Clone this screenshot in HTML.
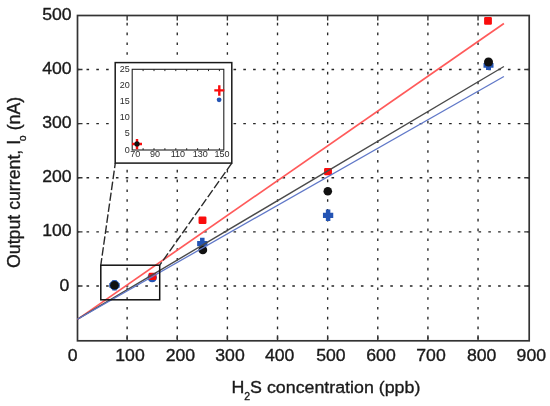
<!DOCTYPE html><html><head><meta charset="utf-8"><style>html,body{margin:0;padding:0;background:#fff;width:550px;height:406px;overflow:hidden}svg{display:block}text{font-family:"Liberation Sans",Arial,sans-serif;fill:#1a1a1a}.m text{stroke:#1a1a1a;stroke-width:0.35px}.i text{fill:#2a2a2a}</style></head><body><svg width="550" height="406" viewBox="0 0 550 406"><g stroke="#262626" stroke-width="1.35" fill="none"><line x1="127.13" y1="15.5" x2="127.13" y2="340.8" stroke-dasharray="2.6 7.20" stroke-dashoffset="-7.3"/><line x1="177.26" y1="15.5" x2="177.26" y2="340.8" stroke-dasharray="2.6 7.20" stroke-dashoffset="-7.3"/><line x1="227.39" y1="15.5" x2="227.39" y2="340.8" stroke-dasharray="2.6 7.20" stroke-dashoffset="-7.3"/><line x1="277.52" y1="15.5" x2="277.52" y2="340.8" stroke-dasharray="2.6 7.20" stroke-dashoffset="-7.3"/><line x1="327.65" y1="15.5" x2="327.65" y2="340.8" stroke-dasharray="2.6 7.20" stroke-dashoffset="-7.3"/><line x1="377.78" y1="15.5" x2="377.78" y2="340.8" stroke-dasharray="2.6 7.20" stroke-dashoffset="-7.3"/><line x1="427.91" y1="15.5" x2="427.91" y2="340.8" stroke-dasharray="2.6 7.20" stroke-dashoffset="-7.3"/><line x1="478.04" y1="15.5" x2="478.04" y2="340.8" stroke-dasharray="2.6 7.20" stroke-dashoffset="-7.3"/><line x1="77.5" y1="286.00" x2="529.2" y2="286.00" stroke-dasharray="2.6 7.20" stroke-dashoffset="-9.0"/><line x1="77.5" y1="231.88" x2="529.2" y2="231.88" stroke-dasharray="2.6 7.20" stroke-dashoffset="-9.0"/><line x1="77.5" y1="177.76" x2="529.2" y2="177.76" stroke-dasharray="2.6 7.20" stroke-dashoffset="-9.0"/><line x1="77.5" y1="123.64" x2="529.2" y2="123.64" stroke-dasharray="2.6 7.20" stroke-dashoffset="-9.0"/><line x1="77.5" y1="69.52" x2="529.2" y2="69.52" stroke-dasharray="2.6 7.20" stroke-dashoffset="-9.0"/></g><path d="M127.13 340.8v-5.5M127.13 15.5v5M177.26 340.8v-5.5M177.26 15.5v5M227.39 340.8v-5.5M227.39 15.5v5M277.52 340.8v-5.5M277.52 15.5v5M327.65 340.8v-5.5M327.65 15.5v5M377.78 340.8v-5.5M377.78 15.5v5M427.91 340.8v-5.5M427.91 15.5v5M478.04 340.8v-5.5M478.04 15.5v5M77.5 286.00h5M529.2 286.00h-5M77.5 231.88h5M529.2 231.88h-5M77.5 177.76h5M529.2 177.76h-5M77.5 123.64h5M529.2 123.64h-5M77.5 69.52h5M529.2 69.52h-5" stroke="#333" stroke-width="1.4" fill="none"/><rect x="77.5" y="15.5" width="451.70" height="325.30" fill="none" stroke="#333" stroke-width="1.7"/><path d="M112.30 280.20h4.4v2.80h2.90v4.8h-2.90v2.80h-4.4v-2.80h-2.90v-4.8h2.90z" fill="#2454b4"/><circle cx="114.5" cy="285.3" r="5.0" fill="#2454b4"/><circle cx="114.5" cy="285.3" r="4.3" fill="#111"/><circle cx="152.2" cy="277.6" r="4.7" fill="#2454b4"/><rect x="148.65" y="272.65" width="7.7" height="7.3" rx="1.2" fill="#fa0c0c"/><path d="M200.05 237.80h4.5v3.20h2.90v5.2h-2.90v3.20h-4.5v-3.20h-2.90v-5.2h2.90z" fill="#2454b4"/><circle cx="202.8" cy="249.9" r="4.4" fill="#111"/><rect x="198.55" y="216.50" width="7.9" height="7.4" rx="1.2" fill="#fa0c0c"/><path d="M325.85 209.50h4.5v3.20h2.90v5.2h-2.90v3.20h-4.5v-3.20h-2.90v-5.2h2.90z" fill="#2454b4"/><circle cx="327.8" cy="191.2" r="4.3" fill="#111"/><rect x="324.05" y="167.90" width="7.9" height="7.4" rx="1.2" fill="#fa0c0c"/><path d="M486.00 60.70h5v2.30h2.50v4.8h-2.50v2.30h-5v-2.30h-2.50v-4.8h2.50z" fill="#2454b4"/><circle cx="488.5" cy="62.0" r="4.5" fill="#111"/><rect x="484.10" y="17.00" width="7.8" height="7.8" rx="1.2" fill="#fa0c0c"/><g stroke-width="1.3" fill="none"><line x1="77.5" y1="319.4" x2="503.9" y2="23.5" stroke="#ff5a5a" stroke-width="1.7"/><line x1="77.5" y1="319.2" x2="503.9" y2="66.5" stroke="#4a4a4a" stroke-width="1.4"/><line x1="77.5" y1="319.2" x2="503.9" y2="76.5" stroke="#6078c8"/></g><rect x="100.8" y="265.2" width="58.9" height="34.6" fill="none" stroke="#111" stroke-width="1.5"/><g stroke="#2a2a2a" stroke-width="1.4" stroke-dasharray="8.5 2.55"><line x1="115.3" y1="163.1" x2="100.8" y2="265.2" stroke-dashoffset="3.4"/><line x1="231.8" y1="163.1" x2="159.7" y2="265.2" stroke-dashoffset="0"/></g><rect x="115.2" y="62.6" width="116.6" height="100.5" fill="#fff" stroke="#1a1a1a" stroke-width="1.5"/><rect x="132.2" y="69.3" width="91.6" height="80.7" fill="none" stroke="#222" stroke-width="1.1"/><path d="M143.10 150v-1.8M143.10 69.3v1.8M154.00 150v-1.8M154.00 69.3v1.8M164.90 150v-1.8M164.90 69.3v1.8M175.80 150v-1.8M175.80 69.3v1.8M186.70 150v-1.8M186.70 69.3v1.8M197.60 150v-1.8M197.60 69.3v1.8M208.50 150v-1.8M208.50 69.3v1.8M219.40 150v-1.8M219.40 69.3v1.8" stroke="#222" stroke-width="1" fill="none"/><path d="M214.3 90.4h10M219.3 85.3v10.4" stroke="#fa0c0c" stroke-width="2.4"/><circle cx="219.1" cy="99.8" r="2.4" fill="#2454b4"/><path d="M132 144h10M137 139v10.2" stroke="#fa0c0c" stroke-width="2.4"/><circle cx="137" cy="143.9" r="2.6" fill="#111"/><g class="i" font-size="8.2" text-anchor="end"><text transform="translate(129.7 152.50) scale(1.1 1)">0</text><text transform="translate(129.7 136.37) scale(1.1 1)">5</text><text transform="translate(129.7 120.24) scale(1.1 1)">10</text><text transform="translate(129.7 104.11) scale(1.1 1)">15</text><text transform="translate(129.7 87.98) scale(1.1 1)">20</text><text transform="translate(129.7 71.85) scale(1.1 1)">25</text></g><g class="i" font-size="8.2" text-anchor="middle"><text transform="translate(135.2 157) scale(1.1 1)">70</text><text transform="translate(154.9 157) scale(1.1 1)">90</text><text transform="translate(177.9 157) scale(1.1 1)">110</text><text transform="translate(200.2 157) scale(1.1 1)">130</text><text transform="translate(222.0 157) scale(1.1 1)">150</text></g><g class="m"><g font-size="16.9" text-anchor="end"><text transform="translate(69.2 290.50) scale(1.045 1)">0</text><text transform="translate(71.6 236.38) scale(1.045 1)">100</text><text transform="translate(71.6 182.26) scale(1.045 1)">200</text><text transform="translate(71.6 128.14) scale(1.045 1)">300</text><text transform="translate(71.6 74.02) scale(1.045 1)">400</text><text transform="translate(71.6 19.90) scale(1.045 1)">500</text></g><g font-size="16.9" text-anchor="middle"><text transform="translate(72.6 361) scale(1.045 1)">0</text><text transform="translate(130 361) scale(1.045 1)">100</text><text transform="translate(180.4 361) scale(1.045 1)">200</text><text transform="translate(230 361) scale(1.045 1)">300</text><text transform="translate(279.6 361) scale(1.045 1)">400</text><text transform="translate(330.9 361) scale(1.045 1)">500</text><text transform="translate(381 361) scale(1.045 1)">600</text><text transform="translate(431 361) scale(1.045 1)">700</text><text transform="translate(481.7 361) scale(1.045 1)">800</text><text transform="translate(531.3 361) scale(1.045 1)">900</text></g><text transform="translate(231.4 392.5) scale(1.03 1)" font-size="17.3">H<tspan font-size="10.2" dy="7.5">2</tspan><tspan dy="-7.5">S concentration (ppb)</tspan></text><text transform="translate(20.3 268) rotate(-90) scale(1.008 1)" font-size="17.6">Output current, I<tspan font-size="10.5" dy="5.3" dx="-1.2">o</tspan><tspan dy="-5.3"> (nA)</tspan></text></g></svg></body></html>
